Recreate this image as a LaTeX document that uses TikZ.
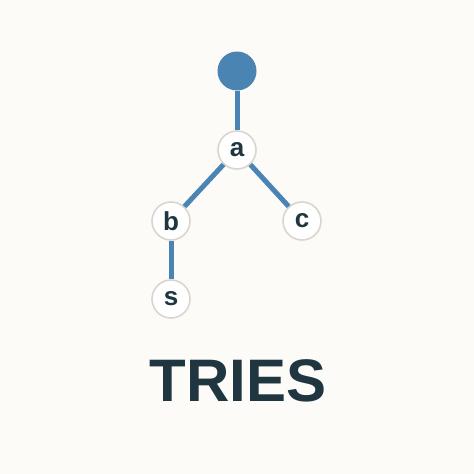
\documentclass[tikz,border=0pt]{standalone}
\usepackage{fontspec}
\setmainfont{Liberation Sans}
\usetikzlibrary{positioning}
\definecolor{triebg}{HTML}{FCFBF7}
\definecolor{trieblue}{HTML}{4A84B2}
\definecolor{trierim}{HTML}{DAD6CE}
\definecolor{trieink}{HTML}{1F3540}

\begin{document}
\begin{tikzpicture}[x=1pt,y=-1pt]
    \fill[triebg] (0,0) rectangle (474,474);
    \useasboundingbox (0,0) rectangle (474,474);
    \node (root) [circle,fill=trieblue,minimum size=39pt,inner sep=0pt] at (237, 71) {};
    \begin{scope}[every node/.style={circle,draw=trierim,line width=1.6pt,fill=white,
        minimum size=38pt,inner sep=0pt,text=trieink,font=\bfseries\fontsize{26}{26}\selectfont}]
      \node (a) at (237, 150) {a};
      \node (b) at (171, 221) {b};
      \node (c) at (302, 221) {c};
      \node (s) at (171, 299) {s};
    \end{scope}
    \begin{scope}[color=trieblue,line width=5pt]
      \path (root) edge node {} (a);
      \path (a) edge node {} (b);
      \path (a) edge node {} (c);
      \path (b) edge node {} (s);
    \end{scope}
    \node (title) at (238, 381) [text=trieink,font=\bfseries\fontsize{60}{60}\selectfont] {TRIES};
  \end{tikzpicture}
\end{document}
